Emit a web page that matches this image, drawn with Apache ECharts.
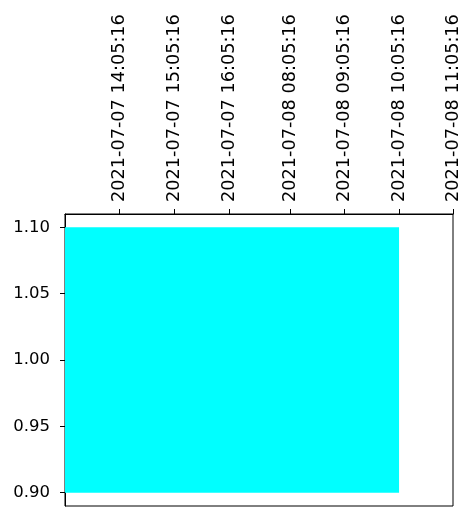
<!DOCTYPE html>
<html>
<head>
<meta charset="utf-8">
<script src="https://cdn.jsdelivr.net/npm/echarts@6/dist/echarts.min.js"></script>
<style>html,body{margin:0;padding:0;background:#fff}#c{width:474px;height:518px}</style>
</head>
<body>
<div id="c"></div>
<script>
// Tick labels along the top (time) axis and their positions on the axis
const tickLabels = [
  '2021-07-07 14:05:16',
  '2021-07-07 15:05:16',
  '2021-07-07 16:05:16',
  '2021-07-08 08:05:16',
  '2021-07-08 09:05:16',
  '2021-07-08 10:05:16',
  '2021-07-08 11:05:16'
];
const tickPositions = [1.0, 2.0, 3.01, 4.14, 5.12, 6.13, 7.12];
// Filled band: x start, x end, lower value, upper value
const bandX = [0, 6.13];
const bandLow = 0.9;
const bandHigh = 1.1;
const yTicks = [0.9, 0.95, 1.0, 1.05, 1.1];

const chart = echarts.init(document.getElementById('c'), null, {renderer: 'canvas'});
const font = 'DejaVu Sans';
chart.setOption({
  animation: false,
  backgroundColor: '#ffffff',
  grid: {left: 65, right: 21, top: 214, bottom: 12, show: true, borderColor: '#000', borderWidth: 1, backgroundColor: 'transparent'},
  xAxis: {
    type: 'value', position: 'top', min: 0, max: tickPositions[tickPositions.length - 1],
    splitLine: {show: false},
    axisLine: {show: true, lineStyle: {color: '#000', width: 1}},
    axisTick: {show: true, length: 5, customValues: tickPositions, lineStyle: {color: '#000'}},
    axisLabel: {
      show: true, rotate: -90, margin: 12, customValues: tickPositions,
      color: '#000', fontFamily: font, fontSize: 17.7,
      formatter: function (v) {
        const i = tickPositions.indexOf(v);
        return i >= 0 ? tickLabels[i] : '';
      }
    }
  },
  yAxis: {
    type: 'value', min: 0.89, max: 1.11,
    splitLine: {show: false},
    axisLine: {show: true, lineStyle: {color: '#000', width: 1}},
    axisTick: {show: true, length: 5, customValues: yTicks, lineStyle: {color: '#000'}},
    axisLabel: {
      show: true, margin: 15, customValues: yTicks,
      color: '#000', fontFamily: font, fontSize: 16.5,
      formatter: function (v) { return v.toFixed(2); }
    }
  },
  series: [{
    type: 'custom',
    data: [[bandX[0], bandX[1], bandLow, bandHigh]],
    encode: {x: [0, 1], y: [2, 3]},
    renderItem: function (params, api) {
      const p0 = api.coord([api.value(0), api.value(3)]);
      const p1 = api.coord([api.value(1), api.value(2)]);
      return {
        type: 'rect',
        shape: {x: p0[0], y: p0[1], width: p1[0] - p0[0], height: p1[1] - p0[1]},
        style: {fill: '#00ffff'}
      };
    }
  }]
});
</script>
</body>
</html>
